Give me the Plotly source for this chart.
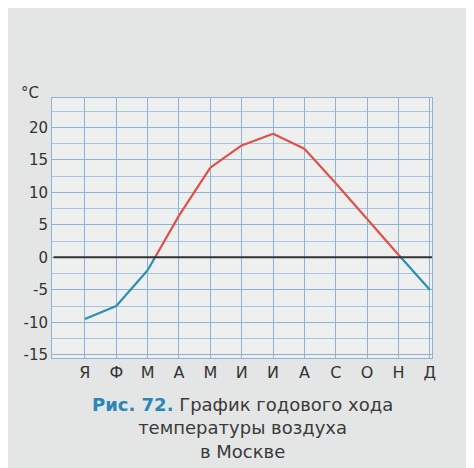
import plotly.graph_objects as go

months = ["Я","Ф","М","А","М","И","И","А","С","О","Н","Д"]
temps = [-9.5, -7.5, -2.0, 6.4, 13.8, 17.2, 19.0, 16.7, 11.4, 5.9, 0.4, -5.0]
yticks = [20, 15, 10, 5, 0, -5, -10, -15]

xs = list(range(len(temps)))
segs = []
for i in range(len(temps) - 1):
    x0, y0, x1, y1 = xs[i], temps[i], xs[i+1], temps[i+1]
    if (y0 < 0) != (y1 < 0):
        xc = x0 + (0 - y0) / (y1 - y0) * (x1 - x0)
        segs.append((x0, y0, xc, 0))
        segs.append((xc, 0, x1, y1))
    else:
        segs.append((x0, y0, x1, y1))

fig = go.Figure()
for (a, b, c, d) in segs:
    pos = (b + d) / 2 >= 0
    fig.add_trace(go.Scatter(x=[a, c], y=[b, d], mode="lines",
                             line=dict(color="#e0504a" if pos else "#2a8fb0", width=2.2),
                             showlegend=False, hoverinfo="skip"))

fig.add_shape(type="line", x0=-1, x1=11.1, y0=0, y1=0, line=dict(color="#333", width=2))

fig.update_layout(
    width=474, height=468, margin=dict(l=44, r=50, t=90, b=118),
    paper_bgcolor="#e4e6e5", plot_bgcolor="#eef0ef",
    font=dict(family="DejaVu Sans", color="#333"),
    xaxis=dict(range=[-1.05, 11.07], tickmode="array", tickvals=xs, ticktext=months,
               showgrid=True, gridcolor="#8fb3d6", gridwidth=1, zeroline=False,
               tickfont=dict(size=16, color="#333"), showline=True, linecolor="#8fb3d6",
               mirror=True, ticks=""),
    yaxis=dict(range=[-15.5, 24.5], tickmode="array", tickvals=yticks,
               ticktext=[str(v) for v in yticks], showgrid=True, gridcolor="#8fb3d6",
               zeroline=False, tickfont=dict(size=15, color="#333"),
               minor=dict(dtick=2.5, showgrid=True, gridcolor="#a9c4de"),
               showline=True, linecolor="#8fb3d6", mirror=True, ticks=""),
)
fig.add_annotation(text="°C", xref="paper", yref="paper", x=-0.03, y=1.06,
                   showarrow=False, xanchor="right", font=dict(size=15, color="#333"))
fig.add_annotation(
    text="<b><span style='color:#2a86b8'>Рис. 72.</span></b> График годового хода<br>температуры воздуха<br>в Москве",
    xref="paper", yref="paper", x=0.5, y=-0.13, yanchor="top", showarrow=False,
    align="center", font=dict(size=18, color="#3a3a3a"))
fig.write_html("out.html")
